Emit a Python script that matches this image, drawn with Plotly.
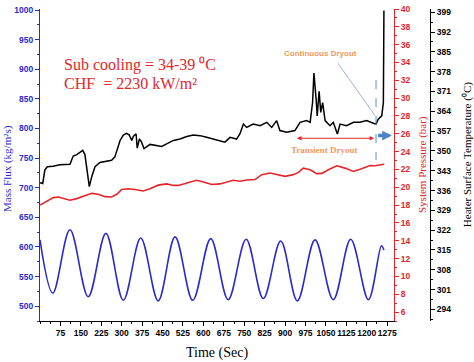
import plotly.graph_objects as go

# ---------------- data ----------------
time_temp = [0, 10, 18, 27, 48, 73, 110, 116, 122, 135, 147, 157, 165, 171, 181, 190, 202, 220,
             245, 263, 275, 284, 294, 306, 318, 328, 337, 343, 353, 357, 365, 373, 382, 404,
             429, 447, 465, 490, 514, 539, 563, 588, 612, 636, 655, 679, 698, 722, 734, 747,
             759, 783, 808, 833, 851, 869, 881, 906, 936, 955, 979, 992, 1001, 1006, 1014,
             1018, 1025, 1031, 1038, 1047, 1065, 1077, 1092, 1102, 1126, 1151, 1175, 1200,
             1224, 1234, 1242, 1255, 1261, 1263]
temp = [338.8, 338.5, 343.3, 344.4, 344.6, 345.1, 345.3, 346.5, 348.2, 348.7, 349.4, 350.2,
        348.7, 345.1, 337.4, 340.9, 344.4, 345.9, 346.4, 346.7, 347.9, 350.8, 353.7, 355.6,
        356.2, 355.6, 353.7, 355.2, 356.0, 351.0, 354.2, 353.1, 350.8, 352.3, 352.0, 351.6,
        352.5, 353.7, 354.2, 355.1, 355.6, 355.4, 354.8, 354.2, 353.7, 353.1, 354.8, 354.2,
        356.0, 359.5, 358.3, 359.5, 358.9, 360.1, 358.3, 360.7, 357.2, 356.6, 357.2, 360.1,
        360.7, 360.1, 367.1, 377.5, 368.2, 362.4, 371.1, 363.6, 367.1, 360.7, 358.9, 360.1,
        356.0, 359.5, 358.9, 360.1, 360.1, 360.7, 359.8, 359.5, 361.2, 362.4, 367.1, 399.6]

time_pres = [0, 25, 49, 67, 86, 110, 135, 159, 190, 214, 239, 263, 282, 300, 324, 349, 379,
             404, 434, 465, 490, 508, 539, 575, 600, 631, 661, 673, 710, 734, 759, 790, 814,
             845, 869, 900, 930, 949, 967, 992, 1016, 1035, 1059, 1090, 1120, 1151, 1181,
             1212, 1230, 1249, 1264]
pressure = [18.0, 18.47, 18.84, 18.91, 18.77, 18.55, 18.73, 19.02, 19.32, 19.21, 18.95,
            18.91, 19.21, 19.76, 19.83, 19.76, 19.58, 19.83, 20.24, 20.38, 20.21, 20.21,
            20.49, 20.79, 20.60, 20.32, 20.38, 20.49, 20.79, 20.68, 20.82, 20.87, 21.42,
            21.60, 21.42, 21.23, 21.42, 21.67, 22.15, 21.97, 21.53, 21.56, 21.97, 22.41,
            22.15, 21.78, 22.08, 22.45, 22.41, 22.52, 22.59]

time_flux = [0, 47, 110, 177, 242, 306, 370, 434, 496, 561, 627, 691, 757, 820, 884, 945,
             1010, 1077, 1141, 1206, 1254, 1263]
mass_flux = [612, 522, 629, 516, 623, 510, 615, 509, 617, 510, 614, 511, 613, 513, 610, 509,
             612, 511, 613, 511, 602, 595]

x_ticks = list(range(75, 1276, 75))

# ---------------- styling ----------------
BLUE = "#2a2acc"
RED = "#e3262b"
ORANGE = "#ee9a5c"
SERIF = "Liberation Serif, Times New Roman, serif"
SANS = "Liberation Sans, Arial, sans-serif"

W, H = 474, 362
L, R, T, B = 40, 44, 5, 41
PW = W - L - R
PH = H - T - B


def px(x):
    return (x - L) / PW


def py(y):
    return (H - B - y) / PH


fig = go.Figure()
fig.add_trace(go.Scatter(x=time_flux, y=mass_flux, mode="lines", yaxis="y",
                         line=dict(color=BLUE, width=1.6, shape="spline", smoothing=1.0)))
fig.add_trace(go.Scatter(x=time_pres, y=pressure, mode="lines", yaxis="y2",
                         line=dict(color=RED, width=1.6)))
fig.add_trace(go.Scatter(x=time_temp, y=temp, mode="lines", yaxis="y3",
                         line=dict(color="black", width=1.5)))

tickfont = lambda c: dict(family=SANS, size=8.5, color=c, weight="bold")

fig.update_layout(
    width=W, height=H,
    margin=dict(l=L, r=R, t=T, b=B),
    paper_bgcolor="white", plot_bgcolor="white",
    showlegend=False,
    xaxis=dict(domain=[0, 354 / PW], range=[0, 1300], tickvals=x_ticks, tickangle=0,
               ticks="outside", ticklen=4, tickcolor="black", showline=True,
               linecolor="black", linewidth=1.2, showgrid=False, zeroline=False,
               tickfont=tickfont("black"),
               minor=dict(ticks="outside", ticklen=2, tick0=0, dtick=37.5,
                          tickcolor="black", showgrid=False)),
    yaxis=dict(range=[475, 1001.7], tick0=500, dtick=50, ticks="outside", ticklen=4,
               tickcolor=BLUE, showline=True, linecolor=BLUE, linewidth=1.2,
               showgrid=False, zeroline=False, tickfont=tickfont(BLUE),
               minor=dict(ticks="outside", ticklen=2, tick0=475, dtick=25,
                          tickcolor=BLUE, showgrid=False)),
    yaxis2=dict(overlaying="y", side="right", anchor="x", range=[5, 40], tick0=6, dtick=2,
                ticks="outside", ticklen=4, tickcolor=RED, showline=True, linecolor=RED,
                linewidth=1.2, showgrid=False, zeroline=False, tickfont=tickfont(RED),
                minor=dict(ticks="outside", ticklen=2, tick0=5, dtick=1,
                           tickcolor=RED, showgrid=False)),
    yaxis3=dict(overlaying="y", side="right", anchor="free", position=1.0,
                range=[289.9, 400.15], tick0=294, dtick=7, ticks="outside", ticklen=4,
                tickcolor="black", showline=True, linecolor="black", linewidth=1.2,
                showgrid=False, zeroline=False, tickfont=tickfont("black"),
                minor=dict(ticks="outside", ticklen=2, tick0=290.5, dtick=3.5,
                           tickcolor="black", showgrid=False)),
)


def label(text, x, y, font, angle=0, xa="center", ya="middle"):
    return dict(text=text, x=px(x), y=py(y), xref="paper", yref="paper", showarrow=False,
                textangle=angle, xanchor=xa, yanchor=ya, font=font)


ann = [
    label("Time (Sec)", 217, 353, dict(family=SERIF, size=14, color="black")),
    label("Mass Flux (kg/m²s)", 8, 167, dict(family=SERIF, size=11, color=BLUE), -90),
    label("System Pressure (bar)", 422, 163, dict(family=SERIF, size=11, color=RED), -90),
    label("Heater Surface Temperature (⁰C)", 467, 153,
          dict(family=SERIF, size=11, color="black"), -90),
    label("Sub cooling = 34-39 ⁰C", 62, 62, dict(family=SERIF, size=16, color=RED),
          xa="left"),
    label("CHF  = 2230 kW/m²", 62, 80, dict(family=SERIF, size=16, color=RED),
          xa="left"),
    label("Continuous Dryout", 320, 50, dict(family=SANS, size=8, color=ORANGE, weight="bold")),
    label("Transient Dryout", 324, 148, dict(family=SERIF, size=9, color=ORANGE, weight="bold")),
]
# red double arrow (transient dryout span)
ann.append(dict(text="", x=1227, y=25.5, ax=938, ay=25.5, xref="x", yref="y2",
                axref="x", ayref="y2", showarrow=True, arrowside="end+start",
                arrowhead=2, arrowsize=0.9, arrowwidth=1, arrowcolor=RED))
# blue thick arrow
ann.append(dict(text="", x=1292, y=25.8, ax=1236, ay=25.8, xref="x", yref="y2",
                axref="x", ayref="y2", showarrow=True, arrowhead=2, arrowsize=0.55,
                arrowwidth=3.5, arrowcolor="#4f86c6"))
fig.update_layout(annotations=ann)

shapes = [
    dict(type="line", xref="paper", yref="paper", x0=px(338), y0=py(60), x1=px(375),
         y1=py(113), line=dict(color="#9cb3d3", width=1)),
    dict(type="line", xref="x", yref="paper", x0=1234, x1=1234, y0=py(77), y1=py(158),
         line=dict(color="#5b8bd0", width=1, dash="dash")),
]
fig.update_layout(shapes=shapes)

fig.write_html("out.html", config={"responsive": False, "displayModeBar": False},
               post_script="document.body.style.margin='0px';document.body.style.padding='0px';")
